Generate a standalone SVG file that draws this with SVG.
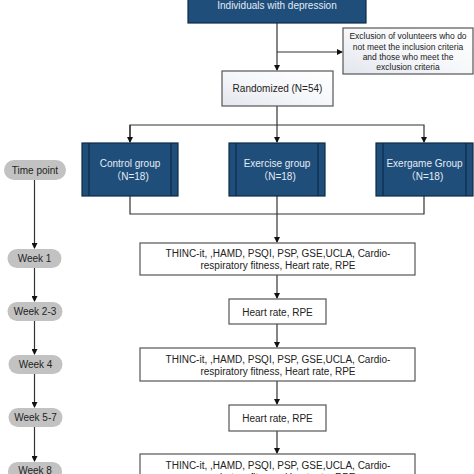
<svg xmlns="http://www.w3.org/2000/svg" width="474" height="474" viewBox="0 0 474 474">
<style>
text{font-family:"Liberation Sans","Noto Sans CJK SC",Arial,sans-serif;font-size:10px;fill:#222;text-anchor:middle}
.w{fill:#e4ecf5}
.blue{fill:#1f4e7a;stroke:#0e2b47;stroke-width:1.2}
.inner{stroke:#0e2b47;stroke-width:1.2}
.box{fill:#fff;stroke:#555;stroke-width:1.2}
.gbox{fill:url(#g);stroke:#555;stroke-width:1.2}
.pill{fill:#c2c2c2}
.ex{font-size:8.5px}
.conn{fill:none;stroke:#333;stroke-width:1.2}
</style>
<defs>
<linearGradient id="g" x1="1" y1="0" x2="0" y2="1">
<stop offset="0" stop-color="#ffffff"/>
<stop offset="0.5" stop-color="#f6f7fa"/>
<stop offset="1" stop-color="#e3e6ee"/>
</linearGradient>
<marker id="a" markerWidth="6" markerHeight="6" refX="5" refY="3" orient="auto" markerUnits="userSpaceOnUse">
<path d="M0,0 L6,3 L0,6 Z" fill="#111"/>
</marker>
</defs>

<g id="connectors">
<path class="conn" d="M277,23 V70" marker-end="url(#a)"/>
<path class="conn" d="M277,52 H342" marker-end="url(#a)"/>
<path class="conn" d="M277,106 V125"/>
<path class="conn" d="M130,142 V125 H424 V142" marker-end="url(#a)"/>
<path class="conn" d="M130,125 V142" marker-end="url(#a)"/>
<path class="conn" d="M277,125 V142" marker-end="url(#a)"/>
<path class="conn" d="M130,196 V214 H424 V196"/>
<path class="conn" d="M277,196 V242" marker-end="url(#a)"/>
<path class="conn" d="M277,275 V298" marker-end="url(#a)"/>
<path class="conn" d="M277,324 V347" marker-end="url(#a)"/>
<path class="conn" d="M277,381 V404" marker-end="url(#a)"/>
<path class="conn" d="M277,431 V453" marker-end="url(#a)"/>
<path class="conn" d="M34.5,180 V248" marker-end="url(#a)"/>
<path class="conn" d="M34.5,268 V301" marker-end="url(#a)"/>
<path class="conn" d="M34.5,321 V354" marker-end="url(#a)"/>
<path class="conn" d="M34.5,374 V407" marker-end="url(#a)"/>
<path class="conn" d="M34.5,427 V461" marker-end="url(#a)"/>
</g>

<g id="individuals">
<rect class="blue" x="188" y="-20" width="178" height="43"/>
<text class="w" x="277" y="9">Individuals with depression</text>
</g>

<g id="exclusion">
<rect class="gbox" x="343" y="28" width="130" height="46"/>
<text class="ex" x="408" y="39">Exclusion of volunteers who do</text>
<text class="ex" x="408" y="49.5">not meet the inclusion criteria</text>
<text class="ex" x="408" y="60">and those who meet the</text>
<text class="ex" x="408" y="70">exclusion criteria</text>
</g>

<g id="randomized">
<rect class="gbox" x="222" y="71" width="111" height="35"/>
<text x="277.5" y="91.5">Randomized (N=54)</text>
</g>

<g id="control">
<rect class="blue" x="82" y="143" width="96" height="53"/>
<line class="inner" x1="89" y1="143" x2="89" y2="196"/>
<line class="inner" x1="171" y1="143" x2="171" y2="196"/>
<text class="w" x="130" y="166.5">Control group</text>
<text class="w" x="130" y="180">（N=18)</text>
</g>

<g id="exercise">
<rect class="blue" x="229" y="143" width="96" height="53"/>
<line class="inner" x1="236" y1="143" x2="236" y2="196"/>
<line class="inner" x1="318" y1="143" x2="318" y2="196"/>
<text class="w" x="277" y="166.5">Exercise group</text>
<text class="w" x="277" y="180">（N=18)</text>
</g>

<g id="exergame">
<rect class="blue" x="376" y="143" width="97" height="53"/>
<line class="inner" x1="383" y1="143" x2="383" y2="196"/>
<line class="inner" x1="466" y1="143" x2="466" y2="196"/>
<text class="w" x="424.5" y="166.5">Exergame Group</text>
<text class="w" x="424.5" y="180">（N=18)</text>
</g>

<g id="timepoint">
<rect class="pill" x="4" y="160" width="62" height="20" rx="10"/>
<text x="35" y="173.5">Time point</text>
</g>
<g id="week1">
<rect class="pill" x="7.5" y="249" width="54" height="19" rx="9.5"/>
<text x="34.5" y="262">Week 1</text>
</g>
<g id="week2-3">
<rect class="pill" x="7.5" y="302" width="55" height="19" rx="9.5"/>
<text x="35" y="315">Week 2-3</text>
</g>
<g id="week4">
<rect class="pill" x="8.5" y="355" width="54" height="19" rx="9.5"/>
<text x="35.5" y="368">Week 4</text>
</g>
<g id="week5-7">
<rect class="pill" x="8.5" y="408" width="54" height="19" rx="9.5"/>
<text x="35.5" y="421">Week 5-7</text>
</g>
<g id="week8">
<rect class="pill" x="8" y="462" width="54" height="19" rx="9.5"/>
<text x="35" y="474">Week 8</text>
</g>

<g id="measures1">
<rect class="box" x="140" y="243" width="275" height="32"/>
<text x="278" y="256.5">THINC-it, ,HAMD, PSQI, PSP, GSE,UCLA, Cardio-</text>
<text x="278" y="268.5">respiratory fitness, Heart rate, RPE</text>
</g>
<g id="hr1">
<rect class="box" x="229" y="299" width="97" height="25"/>
<text x="277.5" y="315.5">Heart rate, RPE</text>
</g>
<g id="measures2">
<rect class="box" x="140" y="348" width="275" height="33"/>
<text x="278" y="362.5">THINC-it, ,HAMD, PSQI, PSP, GSE,UCLA, Cardio-</text>
<text x="278" y="374.5">respiratory fitness, Heart rate, RPE</text>
</g>
<g id="hr2">
<rect class="box" x="229" y="405" width="97" height="26"/>
<text x="277.5" y="421.5">Heart rate, RPE</text>
</g>
<g id="measures3">
<rect class="box" x="140" y="454" width="275" height="33"/>
<text x="278" y="468.5">THINC-it, ,HAMD, PSQI, PSP, GSE,UCLA, Cardio-</text>
<text x="278" y="480.5">respiratory fitness, Heart rate, RPE</text>
</g>
</svg>
